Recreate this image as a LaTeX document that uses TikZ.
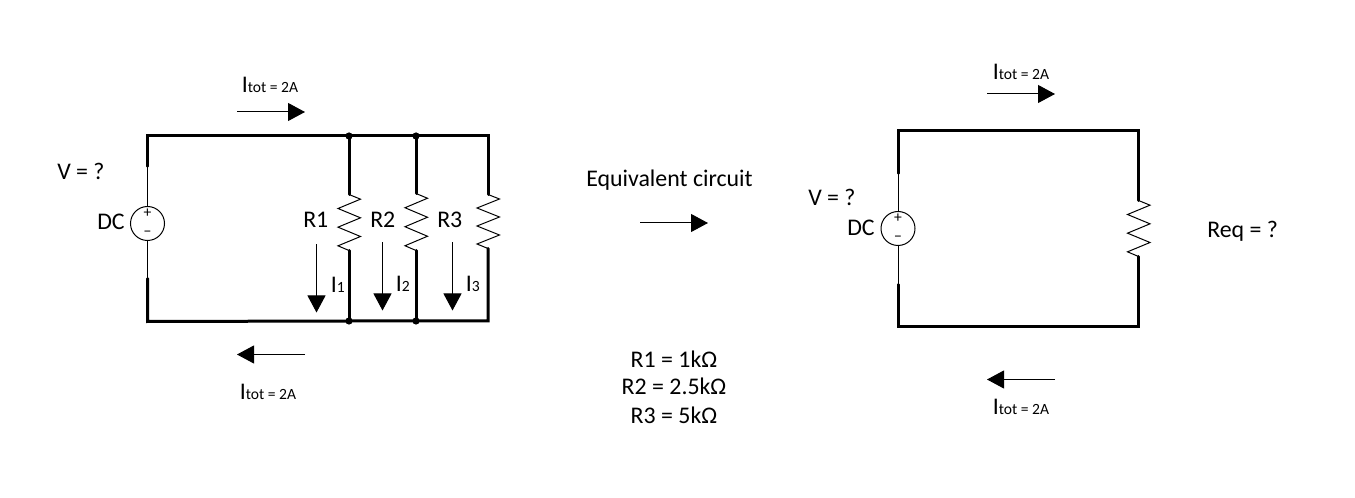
\documentclass[tikz,border=0pt]{standalone}
\usepackage{fontspec}
\setmainfont{Carlito}
\usetikzlibrary{arrows.meta,calc}
\newcommand{\bigtxt}{\fontsize{17.9}{21}\selectfont}
\newcommand{\smltxt}{\fontsize{11.7}{13}\selectfont}
\newcommand{\itot}{\bigtxt I\smltxt tot = 2A}
\newcommand{\zigz}[2]{\draw[wire] (#1)
  -- ($(#1)!1/12!(#2)+(11.5,0)$) -- ($(#1)!3/12!(#2)+(-11,0)$)
  -- ($(#1)!5/12!(#2)+(11.5,0)$) -- ($(#1)!7/12!(#2)+(-11,0)$)
  -- ($(#1)!9/12!(#2)+(11.5,0)$) -- ($(#1)!11/12!(#2)+(-11,0)$) -- (#2);}
\tikzset{
  x=0.75pt,y=-0.75pt,
  wire/.style={line width=0.75pt,black,line join=miter},
  lead/.style={line width=2.25pt,black,line cap=round,line join=miter},
  cur/.style={line width=0.75pt,-{Triangle[length=12.75pt,width=13.5pt]}},
  src/.style={circle,draw,line width=0.75pt,minimum size=25.5pt,inner sep=0pt,fill=white},
  lbl/.style={inner sep=0pt,anchor=base west,font=\bigtxt,yshift=-0.75pt},
  clbl/.style={inner sep=0pt,anchor=base,font=\bigtxt,yshift=-0.75pt},
  pm/.style={inner sep=0pt,font=\smltxt},
  dot/.style={circle,fill=black,inner sep=0pt,minimum size=5.4pt}
}
\begin{document}
\begin{tikzpicture}
\useasboundingbox (0,-0.5) rectangle (1355,497.5);
% Left circuit
\coordinate (tl) at (147.5,135.5);
\coordinate (bl) at (147.5,321);
\node[dot] (jt1) at (349,135.5) {};
\node[dot] (jt2) at (416,135.5) {};
\coordinate (tr) at (488,135.5);
\node[dot] (jb1) at (349,320.5) {};
\node[dot] (jb2) at (416,320.5) {};
\coordinate (br) at (488,320.5);
\coordinate (sa) at (147.5,166);
\coordinate (sb) at (147.5,278);
\coordinate (r1t) at (349,194); \coordinate (r1b) at (349,250);
\coordinate (r2t) at (416,193); \coordinate (r2b) at (416,250);
\coordinate (r3t) at (488,194); \coordinate (r3b) at (488,248);
\node[src] (s1) at (147.5,223) {};
\draw[wire] (sa) -- (s1) (s1) -- (sb);
\draw[lead] (sa) -- (tl) -- (jt1.center) -- (jt2.center) -- (tr) -- (r3t);
\draw[lead] (sb) -- (bl) -- (jb1.center) -- (jb2.center) -- (br) -- (r3b);
\draw[lead] (jt1.center) -- (r1t) (r1b) -- (jb1.center);
\draw[lead] (jt2.center) -- (r2t) (r2b) -- (jb2.center);
\zigz{r1t}{r1b}
\zigz{r2t}{r2b}
\zigz{r3t}{r3b}
\node[pm] (s1p) at (147.5,212.5) {+};
\node[pm] (s1m) at (147.5,233.5) {−};
% Left arrows
\coordinate (a1s) at (237,111.5); \coordinate (a1e) at (305,111.5);
\coordinate (a2s) at (305,354); \coordinate (a2e) at (237,354);
\coordinate (i1s) at (316.5,244); \coordinate (i1e) at (316.5,312);
\coordinate (i2s) at (382.5,242); \coordinate (i2e) at (382.5,310);
\coordinate (i3s) at (452.5,242); \coordinate (i3e) at (452.5,310);
\draw[cur] (a1s) -- (a1e);
\draw[cur] (a2s) -- (a2e);
\draw[cur] (i1s) -- (i1e);
\draw[cur] (i2s) -- (i2e);
\draw[cur] (i3s) -- (i3e);
% Left labels
\node[lbl] (t1) at (241.5,91) {\itot};
\node[lbl] (t2) at (239.5,398) {\itot};
\node[lbl] (v1) at (57,178) {V = ?};
\node[lbl] (dc1) at (97,228) {DC};
\node[lbl] (lr1) at (303,226) {R1};
\node[lbl] (lr2) at (370,226) {R2};
\node[lbl] (lr3) at (437,226) {R3};
\node[lbl] (li1) at (330.5,291) {I\smltxt 1};
\node[lbl] (li2) at (395.5,290) {I\smltxt 2};
\node[lbl] (li3) at (465.5,290) {I\smltxt 3};
% Centre
\node[lbl] (eq) at (586,185) {Equivalent circuit};
\coordinate (ms) at (640,222.5); \coordinate (me) at (708,222.5);
\draw[cur] (ms) -- (me);
\node[clbl] (v1k) at (674,365.5) {R1 = 1kΩ};
\node[clbl] (v2k) at (674,393.5) {R2 = 2.5kΩ};
\node[clbl] (v3k) at (674,421.5) {R3 = 5kΩ};
% Right circuit
\coordinate (Tl) at (898,130);
\coordinate (Tr) at (1138.5,130);
\coordinate (Bl) at (898,326);
\coordinate (Br) at (1138.5,326);
\coordinate (Sa) at (898,173);
\coordinate (Sb) at (898,284);
\coordinate (Rt) at (1138.5,200);
\coordinate (Rb) at (1138.5,256);
\node[src] (s2) at (898,228) {};
\draw[wire] (Sa) -- (s2) (s2) -- (Sb);
\draw[lead] (Sa) -- (Tl) -- (Tr) -- (Rt);
\draw[lead] (Sb) -- (Bl) -- (Br) -- (Rb);
\zigz{Rt}{Rb}
\node[pm] (s2p) at (898,217.5) {+};
\node[pm] (s2m) at (898,238.5) {−};
\coordinate (b1s) at (987,93.5); \coordinate (b1e) at (1055,93.5);
\coordinate (b2s) at (1055,379); \coordinate (b2e) at (987,379);
\draw[cur] (b1s) -- (b1e);
\draw[cur] (b2s) -- (b2e);
\node[lbl] (t3) at (992.5,78) {\itot};
\node[lbl] (t4) at (992.5,413) {\itot};
\node[lbl] (v2) at (808,204) {V = ?};
\node[lbl] (dc2) at (847,234) {DC};
\node[lbl] (req) at (1207,236) {Req = ?};
\end{tikzpicture}
\end{document}
